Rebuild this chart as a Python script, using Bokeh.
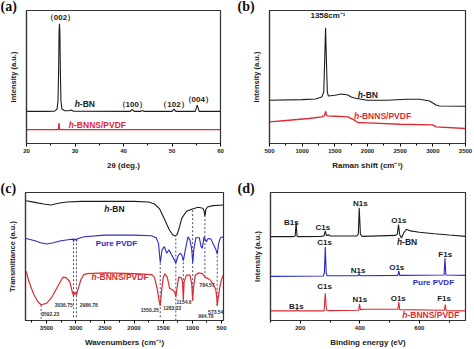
from bokeh.plotting import figure
from bokeh.layouts import column, row
from bokeh.models import Range1d, FixedTicker
from bokeh.core.properties import value
from bokeh.embed import file_html
from bokeh.resources import INLINE

# ---------------- data ----------------
# (a) XRD
xrd_ticks = [20, 30, 40, 50, 60]
xrd_bn_x = [20, 24, 25.8, 26.3, 26.5, 26.62, 26.72, 26.8, 26.88, 26.98, 27.1, 27.3, 27.9, 28.8, 29.2, 29.6,
            41.4, 41.8, 42.2, 43.6, 43.9, 44.2, 50.0, 50.4, 50.8, 54.8, 55.2, 55.6, 60]
xrd_bn_y = [97, 97, 98, 104, 130, 220, 340, 362, 340, 220, 130, 104, 99, 99, 101, 98,
            97, 103, 97, 97, 100, 97, 97, 104, 97, 97, 116, 97, 97]
xrd_comp_x = [20, 26.6, 26.7, 26.8, 60]
xrd_comp_y = [42, 42, 62, 42, 42]

# (b) Raman
raman_ticks = [500, 1000, 1500, 2000, 2500, 3000, 3500]
raman_bn_x = [500, 1000, 1200, 1300, 1330, 1345, 1358, 1371, 1385, 1400, 1500, 1600, 1700, 1750, 1800,
              1900, 2000, 2300, 2600, 2800, 2950, 3050, 3100, 3500]
raman_bn_y = [130, 132, 134, 140, 155, 250, 348, 250, 155, 143, 145, 149, 146, 140, 137,
              133, 130, 130, 133, 133, 128, 116, 113, 112]
raman_comp_x = [500, 800, 1100, 1300, 1340, 1352, 1360, 1368, 1380, 1500, 1700, 1800, 1850, 2000,
                2500, 3000, 3050, 3500]
raman_comp_y = [65, 70, 75, 80, 84, 90, 97, 88, 83, 82, 80, 70, 63, 62, 58, 56, 50, 45]

# (c) FTIR
ftir_ticks = [3500, 3000, 2500, 2000, 1500, 1000, 500]
ftir_bn_x = [3850, 3700, 3550, 3420, 3300, 3150, 2900, 2000, 1750, 1650, 1560, 1480, 1400, 1340, 1300,
             1260, 1220, 1180, 1100, 1000, 900, 820, 800, 790, 784, 778, 770, 740, 650, 466]
ftir_bn_y = [365, 360, 355, 352, 357, 361, 363, 363, 361, 355, 340, 310, 278, 262, 257,
             262, 285, 312, 333, 340, 345, 342, 335, 325, 318, 325, 338, 346, 350, 352]
ftir_pvdf_x = [3850, 3700, 3600, 3500, 3400, 3250, 3100, 3045, 3036, 3025, 2995, 2986, 2975, 2850, 2500,
               2000, 1700, 1620, 1580, 1550, 1520, 1480, 1440, 1400, 1340, 1283, 1250, 1210, 1180, 1154,
               1120, 1075, 1040, 1010, 994, 975, 940, 880, 850, 830, 800, 784, 760, 730, 680, 640, 600,
               573, 550, 520, 466]
ftir_pvdf_y = [250, 243, 237, 233, 236, 243, 247, 248, 240, 248, 247, 242, 249, 255, 260,
               260, 258, 252, 235, 176, 215, 225, 205, 215, 195, 175, 195, 205, 200, 182,
               215, 255, 245, 215, 176, 215, 252, 252, 225, 220, 255, 250, 240, 250, 248, 232, 218,
               202, 235, 252, 255]
ftir_comp_x = [3850, 3800, 3720, 3650, 3592, 3500, 3420, 3320, 3220, 3160, 3100, 3060, 3036, 3015, 2986,
               2955, 2910, 2860, 2800, 2500, 2000, 1700, 1650, 1600, 1570, 1550, 1530, 1500, 1470, 1430,
               1390, 1330, 1300, 1283, 1265, 1235, 1190, 1170, 1154, 1140, 1100, 1040, 1010, 994, 980,
               950, 900, 830, 800, 784, 760, 700, 640, 600, 580, 573, 560, 530, 500, 466]
ftir_comp_y = [150, 118, 80, 58, 48, 52, 68, 100, 132, 130, 118, 88, 75, 86, 78,
               98, 125, 140, 143, 145, 143, 140, 132, 95, 60, 45, 85, 130, 142, 132,
               98, 92, 85, 72, 95, 132, 130, 120, 65, 120, 138, 138, 110, 60, 100,
               138, 145, 143, 137, 132, 130, 125, 110, 95, 70, 45, 65, 100, 125, 140]
peak_pos = [3592.23, 3036.75, 2986.78, 1550.25, 1283.22, 1154.6, 994.78, 784.57, 573.54]
peak_text = ["3592.23", "3036.75", "2986.78", "1550.25", "1283.22", "1154.6", "994.78", "784.57", "573.54"]
peak_line_lo = [5, 10, 10, 10, 0, 62, 62, 132, 45]
peak_line_hi = [48, 240, 242, 176, 257, 182, 340, 318, 202]

# (d) XPS
xps_ticks = [200, 400, 600]
xps_bn_x = [100, 175, 183, 186, 189, 192, 270, 280, 284, 288, 295, 300, 390, 395, 398, 402, 408,
            520, 526, 530, 534, 540, 548, 557, 570, 600, 650, 700, 755]
xps_bn_y = [262, 262, 264, 307, 264, 262, 263, 265, 280, 265, 268, 264, 264, 270, 352, 270, 263,
            266, 270, 300, 268, 258, 275, 285, 280, 276, 271, 267, 263]
xps_pvdf_x = [100, 278, 281, 284, 287, 290, 395, 398, 401, 528, 531, 534, 683, 686, 689, 755]
xps_pvdf_y = [138, 139, 150, 230, 150, 140, 140, 147, 140, 141, 155, 141, 142, 195, 142, 141]
xps_comp_x = [100, 186, 189, 192, 280, 284, 288, 300, 396, 399, 402, 420, 528, 531, 534, 684, 687, 690, 755]
xps_comp_y = [30, 30, 35, 30, 30, 85, 32, 31, 32, 52, 34, 35, 35, 58, 34, 32, 50, 31, 30]

BLACK = "#1c1c1c"
RED = "#dd2a33"
BLUE = "#2b2bbf"
FONT = "Liberation Sans"


def make_fig(w, h, left, right, top, bottom, xr, yr, ticks, minor, xlabel, ylabel, tag):
    p = figure(width=w, height=h, x_range=xr, y_range=yr, output_backend="svg",
               toolbar_location=None, tools="",
               min_border_left=left, min_border_right=right,
               min_border_top=top, min_border_bottom=bottom)
    p.grid.visible = False
    p.outline_line_color = "#333333"
    p.outline_line_width = 1.2
    p.background_fill_color = "white"
    p.border_fill_color = "white"
    # panel tag "(a)" etc. as the title, pulled to the left corner
    p.title.text = tag
    p.title.align = "left"
    p.title.offset = -left
    p.title.standoff = -10
    p.title.vertical_align = "top"
    p.title.text_font = "Liberation Serif"
    p.title.text_font_size = "14px"
    p.title.text_font_style = "bold"
    p.title.text_color = "#111111"
    xa = p.xaxis[0]
    xa.ticker = FixedTicker(ticks=ticks, minor_ticks=minor)
    xa.major_tick_out = 3
    xa.major_tick_in = 0
    xa.minor_tick_out = 2
    xa.minor_tick_in = 0
    xa.axis_line_color = "#333333"
    xa.axis_line_width = 1.2
    xa.major_label_text_font = FONT
    xa.major_label_text_font_size = "6px"
    xa.major_label_text_font_style = "bold"
    xa.major_label_text_color = "#222222"
    xa.major_label_standoff = 2
    xa.axis_label = xlabel
    xa.axis_label_text_font = FONT
    xa.axis_label_text_font_size = "8px"
    xa.axis_label_text_font_style = "bold"
    xa.axis_label_text_color = "#222222"
    xa.axis_label_standoff = 5
    ya = p.yaxis[0]
    ya.ticker = FixedTicker(ticks=[])
    ya.major_tick_out = 0
    ya.minor_tick_out = 0
    ya.axis_line_color = "#333333"
    ya.axis_line_width = 1.2
    ya.major_label_standoff = 0
    ya.axis_label = ylabel
    ya.axis_label_text_font = FONT
    ya.axis_label_text_font_size = "7.5px"
    ya.axis_label_text_font_style = "bold"
    ya.axis_label_text_color = "#222222"
    ya.axis_label_standoff = 9
    return p


def txt(p, x, y, s, color=BLACK, size="8px", align="center", style="bold"):
    p.text(x=[x], y=[y], text=[s], text_color=color, text_font=value(FONT),
           text_font_size=value(size), text_font_style=style,
           text_align=align, text_baseline="middle")


def hlabel(p, x, y, rest, color=BLACK, size="8.5px"):
    txt(p, x, y, "h", color, size, "right", "bold italic")
    txt(p, x, y, rest, color, size, "left", "bold")


# ---------------- (a) ----------------
pa = make_fig(237, 175, 26, 17, 10, 31, Range1d(20, 60), Range1d(0, 402),
              xrd_ticks, [25, 35, 45, 55], "2θ (deg.)", "Intensity (a.u.)", "(a)")
pa.line(xrd_bn_x, xrd_bn_y, line_color=BLACK, line_width=1.1)
pa.line(xrd_comp_x, xrd_comp_y, line_color=RED, line_width=1.4)
txt(pa, 27.0, 380, "（002）")
hlabel(pa, 31.0, 119, "-BN")
txt(pa, 41.8, 119, "（100）")
txt(pa, 50.4, 119, "（102）")
txt(pa, 55.4, 132, "（004）")
hlabel(pa, 29.8, 55, "-BNNS/PVDF", RED)

# ---------------- (b) ----------------
pb = make_fig(237, 175, 32, 9, 10, 32, Range1d(500, 3500), Range1d(0, 400),
              raman_ticks, [750, 1250, 1750, 2250, 2750, 3250], "Raman shift (cm⁻¹)", "Intensity (a.u.)", "(b)")
pb.line(raman_bn_x, raman_bn_y, line_color=BLACK, line_width=1.1)
pb.line(raman_comp_x, raman_comp_y, line_color=RED, line_width=1.4)
txt(pb, 1395, 385, "1358cm⁻¹")
hlabel(pb, 1929, 145, "-BN")
hlabel(pb, 1872, 82, "-BNNS/PVDF", RED)

# ---------------- (c) ----------------
pc = make_fig(237, 174, 25, 14, 17, 27, Range1d(3860, 466), Range1d(0, 390),
              ftir_ticks, [3750, 3250, 2750, 2250, 1750, 1250, 750], "Wavenumbers (cm⁻¹)",
              "Transmittance (a.u.)", "(c)")
pc.segment(x0=peak_pos, y0=peak_line_lo, x1=peak_pos, y1=peak_line_hi,
           line_color="#3a3a6a", line_width=0.9, line_dash="2 2")
pc.line(ftir_bn_x, ftir_bn_y, line_color=BLACK, line_width=1.1)
pc.line(ftir_pvdf_x, ftir_pvdf_y, line_color=BLUE, line_width=1.1)
pc.line(ftir_comp_x, ftir_comp_y, line_color=RED, line_width=1.2)
hlabel(pc, 2420, 340, "-BN")
txt(pc, 2300, 235, "Pure PVDF", BLUE)
hlabel(pc, 2640, 133, "-BNNS/PVDF", RED)
peak_lab = [(3590, 20, "left"), (3050, 47, "right"), (2930, 47, "left"), (1575, 33, "right"),
            (1500, 38, "left"), (1270, 57, "left"), (900, 15, "left"), (880, 108, "left"), (730, 26, "left")]
for (lx, ly, al), s in zip(peak_lab, peak_text):
    txt(pc, lx, ly, s, "#333333", "5px", al, "bold")

# ---------------- (d) ----------------
pd_ = make_fig(237, 174, 33, 9, 13, 27, Range1d(100, 755), Range1d(0, 400),
               xps_ticks, [100, 300, 500, 700], "Binding energy (eV)", "Intensity (a.u.)", "(d)")
pd_.line(xps_bn_x, xps_bn_y, line_color=BLACK, line_width=1.1)
pd_.line(xps_pvdf_x, xps_pvdf_y, line_color=BLUE, line_width=1.1)
pd_.line(xps_comp_x, xps_comp_y, line_color=RED, line_width=1.1)
txt(pd_, 170, 307, "B1s")
txt(pd_, 276, 290, "C1s")
txt(pd_, 402, 365, "N1s")
txt(pd_, 531, 312, "O1s")
hlabel(pd_, 542, 246, "-BN")
txt(pd_, 282, 245, "C1s")
txt(pd_, 394, 157, "N1s")
txt(pd_, 524, 165, "O1s")
txt(pd_, 687, 207, "F1s")
txt(pd_, 647, 118, "Pure PVDF", BLUE)
txt(pd_, 187, 43, "B1s")
txt(pd_, 282, 107, "C1s")
txt(pd_, 400, 67, "N1s")
txt(pd_, 529, 68, "O1s")
txt(pd_, 683, 68, "F1s")
hlabel(pd_, 560, 18, "-BNNS/PVDF", RED)

layout = column(row(pa, pb), row(pc, pd_))
open("out.html", "w").write(file_html(layout, INLINE))
